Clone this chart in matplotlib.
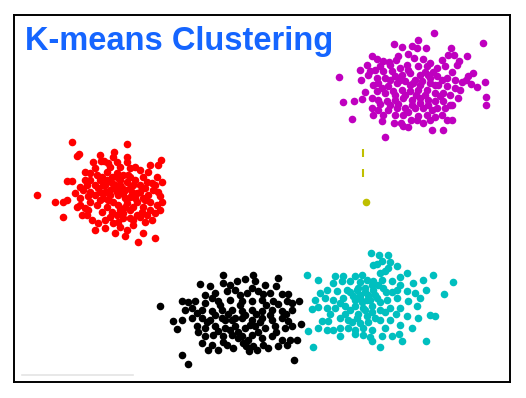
import matplotlib
matplotlib.use("Agg")
import matplotlib.pyplot as plt
from matplotlib.lines import Line2D

# point coordinates (chart units, y grows downward)
red_pts = [(72, 142), (127, 144), (77, 156), (79, 154), (100, 155), (114, 152), (113, 157),
           (101, 161), (104, 161), (117, 162), (127, 162), (127, 157), (161, 160), (150, 165),
           (158, 165), (85, 172), (95, 168), (90, 173), (110, 167), (120, 167), (130, 168),
           (135, 167), (67, 181), (72, 181), (85, 180), (87, 185), (97, 175), (102, 177),
           (107, 172), (117, 173), (123, 175), (130, 177), (143, 177), (148, 172), (157, 177),
           (162, 182), (37, 195), (55, 202), (63, 202), (67, 200), (80, 198), (83, 190),
           (90, 192), (98, 188), (103, 185), (112, 183), (120, 185), (127, 182), (133, 185),
           (140, 185), (145, 188), (153, 190), (158, 192), (80, 205), (77, 207), (85, 208),
           (90, 202), (97, 205), (103, 198), (110, 195), (117, 192), (123, 193), (130, 197),
           (137, 193), (143, 198), (150, 202), (157, 205), (162, 202), (63, 217), (82, 215),
           (87, 215), (92, 220), (98, 223), (110, 217), (117, 215), (123, 213), (130, 210),
           (137, 215), (140, 217), (147, 215), (155, 213), (95, 230), (113, 223), (115, 233),
           (120, 227), (127, 230), (133, 225), (138, 242), (143, 233), (155, 238), (118, 205),
           (113, 202), (107, 207), (102, 212), (127, 203), (133, 207), (112, 177), (118, 178),
           (107, 180), (115, 188), (122, 188), (130, 188), (105, 192), (95, 195), (137, 202),
           (143, 207), (150, 210), (90, 180), (80, 187), (147, 182), (152, 183), (123, 218),
           (130, 218), (115, 185), (120, 180), (125, 190), (110, 190), (118, 195), (125, 198),
           (105, 185), (132, 192), (100, 192), (108, 200), (120, 210), (112, 212), (125, 207),
           (135, 180), (140, 192), (128, 175), (100, 180), (95, 185), (145, 200),
           (93, 162), (108, 163), (140, 170), (155, 185), (160, 196), (88, 196), (75, 193),
           (100, 200), (135, 198), (148, 195), (105, 220), (118, 222), (133, 220), (145, 222),
           (152, 220), (88, 210), (142, 212), (160, 210), (105, 228), (125, 236)]

magenta_pts = [(434, 33), (394, 44), (418, 40), (483, 43), (402, 47), (412, 46), (417, 48),
               (426, 48), (451, 48), (398, 56), (408, 54), (448, 55), (454, 55), (467, 56),
               (372, 56), (377, 59), (383, 61), (389, 62), (414, 58), (423, 59), (430, 63),
               (442, 60), (459, 61), (457, 65), (367, 65), (360, 70), (370, 71), (375, 70),
               (383, 71), (392, 71), (400, 68), (407, 65), (418, 66), (427, 66), (437, 68),
               (445, 66), (339, 77), (361, 80), (368, 75), (377, 78), (385, 78), (395, 76),
               (402, 75), (410, 73), (420, 75), (428, 75), (437, 76), (447, 78), (455, 80),
               (466, 80), (473, 73), (468, 76), (485, 82), (471, 84), (477, 87), (373, 85),
               (378, 83), (388, 86), (397, 83), (405, 81), (413, 83), (422, 81), (430, 83),
               (438, 85), (447, 86), (455, 88), (460, 90), (377, 91), (385, 93), (393, 91),
               (402, 90), (410, 91), (418, 90), (427, 90), (435, 93), (443, 93), (450, 95),
               (458, 98), (343, 102), (354, 101), (362, 99), (372, 98), (378, 100), (387, 101),
               (395, 100), (403, 98), (412, 100), (420, 98), (428, 100), (435, 101), (443, 101),
               (450, 105), (452, 105), (486, 97), (486, 105), (372, 108), (378, 110), (388, 110),
               (397, 108), (405, 108), (415, 108), (423, 108), (432, 110), (437, 108), (373, 115),
               (383, 115), (395, 115), (403, 115), (418, 116), (427, 115), (435, 117), (442, 115),
               (352, 119), (382, 121), (394, 123), (401, 123), (417, 120), (423, 123), (447, 120),
               (452, 120), (403, 126), (408, 127), (432, 130), (443, 130), (385, 137), (410, 85),
               (415, 80), (420, 85), (425, 95), (405, 95), (412, 105), (420, 103), (400, 80),
               (430, 78), (395, 95), (435, 85), (425, 72), (408, 70), (390, 65),
               (380, 66), (396, 60), (433, 72), (442, 80), (452, 72), (382, 88), (390, 80),
               (398, 104), (408, 112), (416, 95), (428, 105), (440, 96), (445, 108),
               (390, 105), (380, 104), (411, 120), (430, 120), (462, 82), (365, 92)]

black_pts = [(223, 275), (253, 275), (200, 284), (210, 286), (223, 283), (237, 281), (245, 279),
             (255, 281), (265, 285), (278, 278), (205, 295), (215, 293), (227, 291), (235, 290),
             (247, 293), (258, 291), (270, 293), (282, 294), (288, 294), (160, 306), (182, 301),
             (188, 302), (195, 301), (205, 303), (218, 301), (230, 300), (242, 301), (252, 301),
             (262, 300), (273, 301), (287, 301), (292, 303), (299, 301), (185, 310), (192, 308),
             (202, 310), (212, 311), (222, 310), (232, 310), (242, 311), (252, 310), (262, 311),
             (272, 310), (282, 311), (292, 310), (173, 321), (182, 320), (192, 318), (202, 318),
             (210, 320), (222, 318), (232, 320), (242, 318), (252, 320), (262, 318), (272, 320),
             (282, 318), (288, 321), (301, 324), (177, 329), (197, 326), (205, 328), (215, 326),
             (225, 328), (235, 326), (245, 328), (255, 326), (265, 328), (275, 326), (285, 328),
             (292, 326), (205, 336), (213, 335), (223, 336), (232, 335), (242, 336), (252, 335),
             (262, 338), (272, 336), (282, 340), (290, 340), (297, 340), (202, 343), (212, 345),
             (223, 342), (233, 348), (243, 343), (253, 346), (263, 345), (268, 348), (278, 346),
             (287, 345), (208, 350), (218, 350), (249, 351), (257, 350), (182, 355), (188, 364),
             (294, 360), (240, 305), (245, 315), (235, 318), (250, 325), (225, 320), (230, 330),
             (260, 322), (220, 305), (248, 340), (238, 338), (215, 315), (270, 315),
             (230, 285), (240, 295), (252, 288), (263, 294), (276, 286), (212, 298), (197, 313),
             (207, 322), (228, 314), (256, 314), (266, 305), (278, 304), (286, 314), (198, 332),
             (218, 331), (238, 332), (258, 332), (276, 332), (227, 345), (246, 346)]

cyan_pts = [(371, 253), (379, 255), (388, 255), (382, 261), (373, 265), (388, 268), (397, 266),
            (335, 276), (343, 276), (355, 276), (362, 275), (307, 275), (318, 280), (380, 273),
            (385, 271), (407, 273), (400, 277), (433, 275), (453, 282), (423, 280), (333, 283),
            (342, 281), (350, 281), (367, 280), (373, 281), (382, 280), (392, 281), (400, 285),
            (413, 283), (426, 290), (444, 294), (320, 293), (327, 290), (337, 291), (347, 290),
            (357, 290), (365, 288), (373, 290), (383, 288), (397, 290), (407, 291), (415, 293),
            (315, 300), (325, 298), (333, 300), (343, 298), (353, 296), (360, 298), (367, 300),
            (377, 298), (387, 300), (397, 298), (408, 301), (420, 298), (312, 309), (318, 307),
            (327, 308), (335, 308), (345, 306), (355, 306), (363, 308), (372, 306), (380, 310),
            (390, 308), (400, 308), (417, 306), (430, 315), (435, 316), (322, 321), (328, 321),
            (340, 318), (348, 320), (357, 318), (367, 316), (375, 318), (380, 320), (390, 320),
            (407, 316), (418, 318), (308, 331), (318, 328), (327, 330), (333, 330), (340, 328),
            (348, 328), (355, 330), (363, 328), (372, 330), (385, 328), (400, 325), (412, 328),
            (355, 334), (363, 335), (370, 337), (382, 336), (392, 336), (399, 334), (372, 341),
            (402, 341), (426, 341), (313, 347), (380, 347), (360, 295), (365, 292), (370, 300),
            (362, 302), (355, 300), (368, 295), (375, 295), (358, 288), (372, 285), (365, 310),
            (350, 310), (380, 302), (377, 264), (390, 262), (360, 282), (378, 285), (392, 292),
            (350, 292), (340, 303), (385, 312), (372, 312), (358, 314), (345, 314), (352, 322),
            (396, 314), (360, 323), (340, 336), (330, 314), (386, 292), (368, 322)]

yellow_pts = [(363, 153), (363, 173), (366, 202)]

clusters = [(red_pts, 'r'), (magenta_pts, 'm'), (black_pts, 'k'), (cyan_pts, 'c')]

fig = plt.figure(figsize=(5.26, 3.98), dpi=100)
ax = fig.add_axes([0.0266, 0.0402, 0.943, 0.922])

for pts, col in clusters:
    xs, ys = zip(*pts)
    ax.scatter(xs, ys, s=30, c=col, linewidths=0)

# yellow cluster is mostly hidden, only slivers show
yx, yy = zip(*yellow_pts)
ax.scatter(yx[:2], yy[:2], s=30, c='y', marker='|', linewidths=1.5)
ax.scatter(yx[2:], yy[2:], s=30, c='y', linewidths=0)

ax.set_xlim(14, 510)
ax.set_ylim(382, 15)
ax.set_xticks([])
ax.set_yticks([])
for sp in ax.spines.values():
    sp.set_linewidth(1.4)

ax.text(0.022, 0.905, 'K-means Clustering', transform=ax.transAxes,
        ha='left', va='baseline', fontsize=23.5, fontweight='bold',
        color='#1565ff', family='Liberation Sans')

# faint line at lower left
ax.add_line(Line2D([0.016, 0.24], [0.018, 0.018], transform=ax.transAxes,
                   color='#e4e4e4', lw=1.2))

fig.savefig('out.png', dpi=100)
